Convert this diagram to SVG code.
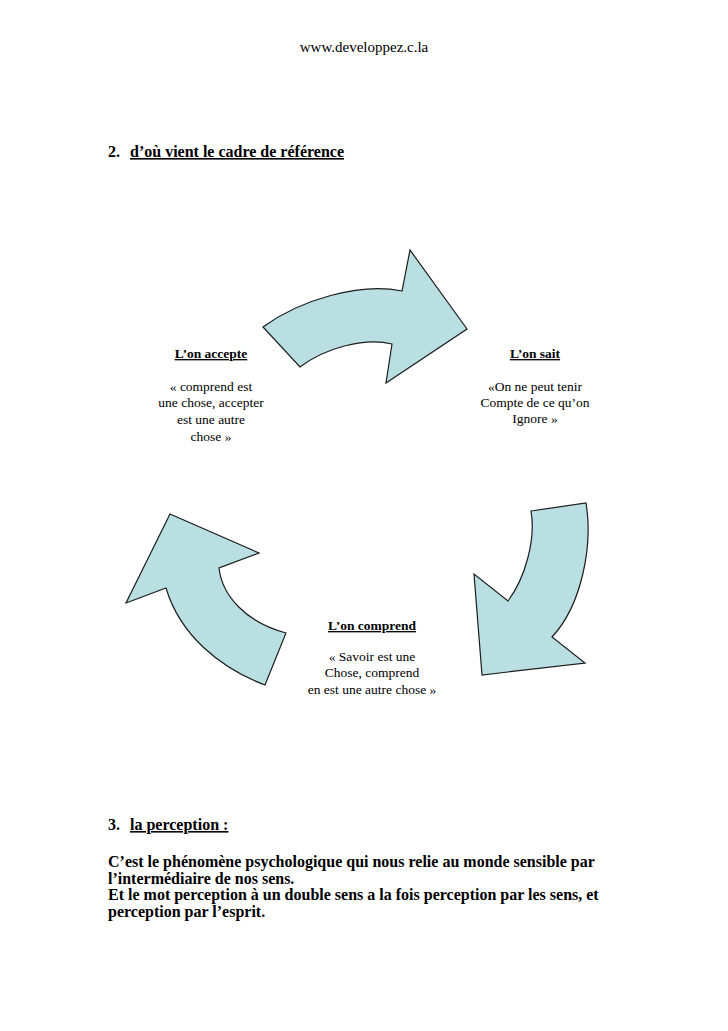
<svg xmlns="http://www.w3.org/2000/svg" width="728" height="1031" viewBox="0 0 728 1031">
<style>
  .t{font-family:"Liberation Serif","Times New Roman",serif;fill:#000}
  .hdr{font-size:15px}
  .h{font-size:16px;font-weight:bold}
  .u{text-decoration:underline}
  .lbl{font-size:13.5px;text-anchor:middle}
  .lb{font-weight:bold;text-decoration:underline}
  .arrow{fill:#b9dfe3;stroke:#1c1c1c;stroke-width:1.2;stroke-linejoin:miter}
</style>
<rect width="728" height="1031" fill="#fff"/>
<text class="t hdr" x="364" y="52" text-anchor="middle">www.developpez.c.la</text>
<text class="t h" x="108" y="157">2.<tspan x="130" class="u">d’où vient le cadre de référence</tspan></text>

<g id="connectors">
  <path id="arrow-top" class="arrow" d="M263,327 C300,300 360,282 402,291 L410,250 L467,329 L386,383 L392,344 C365,337 325,348 300,367 Z"/>
  <path id="arrow-right" class="arrow" d="M531,511 L586,503 C593,545 582,605 552,637 L585,663 L482,675 L474,574 L508,601 C525,578 536,540 531,511 Z"/>
  <path id="arrow-left" class="arrow" d="M170,514 L259,553 L219,568 C222,595 245,622 286,633 L265,685 C220,668 180,635 166,588 L126,603 Z"/>
</g>

<g id="node-accepte">
  <text class="t lbl" x="211" y="358"><tspan class="lb">L’on accepte</tspan></text>
  <text class="t lbl" x="211" y="391">« comprend est</text>
  <text class="t lbl" x="211" y="407">une chose, accepter</text>
  <text class="t lbl" x="211" y="424">est une autre</text>
  <text class="t lbl" x="211" y="441">chose »</text>
</g>
<g id="node-sait">
  <text class="t lbl" x="535" y="358"><tspan class="lb">L’on sait</tspan></text>
  <text class="t lbl" x="535" y="391">«On ne peut tenir</text>
  <text class="t lbl" x="535" y="407">Compte de ce qu’on</text>
  <text class="t lbl" x="535" y="423">Ignore »</text>
</g>
<g id="node-comprend">
  <text class="t lbl" x="372" y="630"><tspan class="lb">L’on comprend</tspan></text>
  <text class="t lbl" x="372" y="661">« Savoir est une</text>
  <text class="t lbl" x="372" y="677">Chose, comprend</text>
  <text class="t lbl" x="372" y="694">en est une autre chose »</text>
</g>

<text class="t h" x="108" y="830">3.<tspan x="130" class="u">la perception :</tspan></text>
<text class="t h" x="108" y="867">C’est le phénomène psychologique qui nous relie au monde sensible par</text>
<text class="t h" x="108" y="884">l’intermédiaire de nos sens.</text>
<text class="t h" x="108" y="900">Et le mot perception à un double sens a la fois perception par les sens, et</text>
<text class="t h" x="108" y="917">perception par l’esprit.</text>
</svg>
